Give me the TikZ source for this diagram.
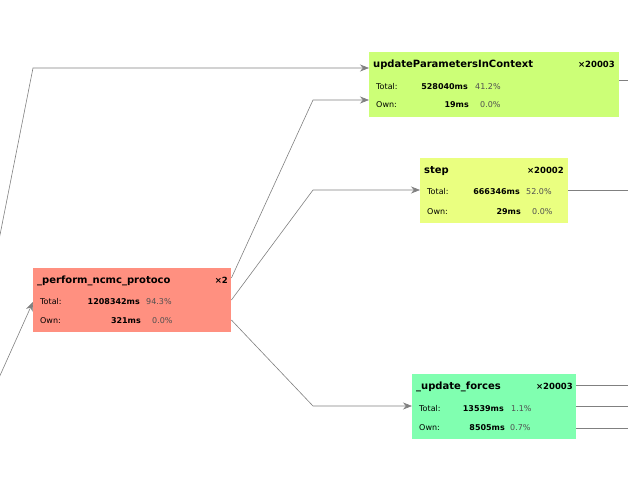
\documentclass[tikz,border=0pt]{standalone}
\usepackage{fontspec}
\setmainfont{DejaVu Sans}
\usetikzlibrary{arrows.meta}
\definecolor{cupd}{RGB}{204,255,119}
\definecolor{cstep}{RGB}{234,255,128}
\definecolor{cperf}{RGB}{255,144,128}
\definecolor{cforce}{RGB}{128,255,176}
\definecolor{cline}{RGB}{128,128,128}
\definecolor{cpct}{RGB}{80,80,80}
\tikzset{
 box/.style={draw=none,inner sep=0,anchor=north west},
 ttl/.style={font=\fontsize{10}{12}\selectfont\bfseries,anchor=west,inner sep=0},
 cnt/.style={font=\fontsize{8.5}{10}\selectfont\bfseries,anchor=east,inner sep=0},
 lbl/.style={font=\fontsize{8}{10}\selectfont,anchor=west,inner sep=0},
 val/.style={font=\fontsize{8}{10}\selectfont\bfseries,anchor=east,inner sep=0},
 pct/.style={font=\fontsize{8}{10}\selectfont,text=cpct,anchor=west,inner sep=0},
 edge/.style={draw=cline,line width=0.6pt},
 arr/.style={edge,-{Stealth[length=9pt,width=7pt]}},
}
\begin{document}
\begin{tikzpicture}[x=1pt,y=-1pt]
\useasboundingbox (0,0) rectangle (628,486);
\begin{scope}
\clip (0,0) rectangle (628,486);
% boxes
\node[box,fill=cupd,minimum width=250pt,minimum height=65pt] (upd) at (369,52) {};
\node[box,fill=cstep,minimum width=148pt,minimum height=65pt] (stp) at (420,158) {};
\node[box,fill=cperf,minimum width=198pt,minimum height=64pt] (prf) at (33,268) {};
\node[box,fill=cforce,minimum width=164pt,minimum height=65pt] (frc) at (412,374) {};
% update texts
\node[ttl] at (373,65) {updateParametersInContext};
\node[cnt,fill=cupd,inner sep=1pt] at (616,64) {×20003};
\node[lbl] at (376,87) {Total:};
\node[val] at (468,87) {528040ms};
\node[pct] at (475,87) {41.2\%};
\node[lbl] at (376,105) {Own:};
\node[val] at (469,105) {19ms};
\node[pct] at (480,105) {0.0\%};
% step texts
\node[ttl] at (424,171) {step};
\node[cnt] at (564,170) {×20002};
\node[lbl] at (427,192) {Total:};
\node[val] at (520,192) {666346ms};
\node[pct] at (526,192) {52.0\%};
\node[lbl] at (427,212) {Own:};
\node[val] at (521,212) {29ms};
\node[pct] at (532,212) {0.0\%};
% perform texts
\node[ttl] at (37,281) {\_perform\_ncmc\_protoco};
\node[cnt,fill=cperf,inner sep=1pt] at (229,280) {×2};
\node[lbl] at (40,302) {Total:};
\node[val] at (140,302) {1208342ms};
\node[pct] at (146,302) {94.3\%};
\node[lbl] at (40,321) {Own:};
\node[val] at (141,321) {321ms};
\node[pct] at (152,321) {0.0\%};
% forces texts
\node[ttl] at (416,387) {\_update\_forces};
\node[cnt] at (573,386) {×20003};
\node[lbl] at (419,409) {Total:};
\node[val] at (504,409) {13539ms};
\node[pct] at (511,409) {1.1\%};
\node[lbl] at (419,428) {Own:};
\node[val] at (505,428) {8505ms};
\node[pct] at (510,428) {0.7\%};
% connectors
\coordinate (in1) at (-2,245);
\coordinate (in2) at (-2,380);
\coordinate (o1) at (630,80);
\coordinate (o2) at (630,190);
\coordinate (o3) at (630,385);
\coordinate (o4) at (630,406);
\coordinate (o5) at (630,428);
\draw[arr] (in1) -- (33,68) -- (upd.west |- 0,68);
\draw[arr] (in2) -- (prf.west |- 0,302);
\draw[arr] (prf.east |- 0,278) -- (313,100) -- (upd.west |- 0,100);
\draw[arr] (prf.east |- 0,300) -- (313,190) -- (stp.west |- 0,190);
\draw[arr] (prf.east |- 0,320) -- (313,406) -- (frc.west |- 0,406);
\draw[edge] (upd.east |- 0,80) -- (o1);
\draw[edge] (stp.east |- 0,190) -- (o2);
\draw[edge] (frc.east |- 0,385) -- (o3);
\draw[edge] (frc.east |- 0,406) -- (o4);
\draw[edge] (frc.east |- 0,428) -- (o5);
\end{scope}
\end{tikzpicture}
\end{document}
